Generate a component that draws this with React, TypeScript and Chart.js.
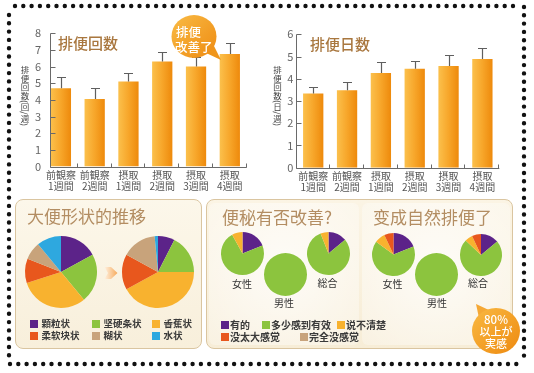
import React, { useEffect, useRef } from "react";
import { Chart, registerables } from "chart.js";
Chart.register(...registerables);

const FONT = "'Noto Sans CJK JP', 'Noto Sans CJK SC', sans-serif";

// ---------- data ----------
const barCategories = [
  ["前観察", "1週間"],
  ["前観察", "2週間"],
  ["摂取", "1週間"],
  ["摂取", "2週間"],
  ["摂取", "3週間"],
  ["摂取", "4週間"],
];
const frequencyValues = [4.7, 4.05, 5.1, 6.3, 6.0, 6.75];
const frequencyErrors = [0.7, 0.65, 0.5, 0.6, 0.6, 0.65];
const frequencyTicks = [0, 1, 2, 3, 4, 5, 6, 7, 8];

const daysValues = [3.34, 3.48, 4.26, 4.45, 4.57, 4.89];
const daysErrors = [0.27, 0.36, 0.49, 0.36, 0.48, 0.51];
const daysTicks = [0, 1, 2, 3, 4, 5, 6];

const shapeLabels = ["顆粒状", "坚硬条状", "香蕉状", "柔软块状", "糊状", "水状"];
const shapeColors = ["#5c2389", "#8cc43e", "#f8b22f", "#e8571d", "#c8a37b", "#2ea8df"];
const shapeBefore = [17, 22, 31, 11, 8, 11];
const shapeAfter = [7.5, 17.5, 42, 16, 15.5, 1.5];

const feelLabels = ["有的", "多少感到有效", "说不清楚", "没太大感觉", "完全没感觉"];
const feelColors = ["#5c2389", "#8cc43e", "#f8b22f", "#e8571d", "#c8a37b"];
const groupLabels = ["女性", "男性", "総合"];
const constipationFemale = [19, 73, 8, 0, 0];
const constipationMale = [0, 100, 0, 0, 0];
const constipationTotal = [14, 80, 6, 0, 0];
const naturalFemale = [19, 66, 8, 7, 0];
const naturalMale = [0, 100, 0, 0, 0];
const naturalTotal = [14, 73, 6, 7, 0];

// ---------- helpers ----------
function barGradient(c: any) {
  const chart = c.chart;
  const xs = chart.scales && chart.scales.x;
  if (!chart.chartArea || !xs || c.dataIndex == null) return "#f5a623";
  const x = xs.getPixelForValue(c.dataIndex);
  const g = chart.ctx.createLinearGradient(x - 10, 0, x + 10, 0);
  g.addColorStop(0, "#fbc04c");
  g.addColorStop(0.5, "#f7a62a");
  g.addColorStop(1, "#ee8a0c");
  return g;
}

function errorBars(errors: number[]) {
  return {
    id: "errorBars",
    afterDatasetsDraw(chart: any) {
      const { ctx } = chart;
      const meta = chart.getDatasetMeta(0);
      const ys = chart.scales.y;
      const vals = chart.data.datasets[0].data as number[];
      ctx.save();
      ctx.strokeStyle = "#5f5f5f";
      ctx.lineWidth = 1.2;
      ctx.beginPath();
      meta.data.forEach((bar: any, i: number) => {
        const x = Math.round(bar.x) + 0.5;
        const yTop = Math.round(ys.getPixelForValue(vals[i] + errors[i])) + 0.5;
        ctx.moveTo(x, bar.y);
        ctx.lineTo(x, yTop);
        ctx.moveTo(x - 4.5, yTop);
        ctx.lineTo(x + 4.5, yTop);
      });
      ctx.stroke();
      ctx.restore();
    },
  };
}

function axesLines(axisX: number) {
  return {
    id: "axesLines",
    afterDraw(chart: any) {
      const { ctx, chartArea, scales } = chart;
      const ys = scales.y;
      const xs = scales.x;
      const bottom = Math.round(ys.getPixelForValue(ys.min)) + 0.5;
      const top = Math.round(ys.getPixelForValue(ys.max)) + 0.5;
      const x0 = Math.round(axisX) + 0.5;
      ctx.save();
      ctx.strokeStyle = "#6a6a6a";
      ctx.lineWidth = 1;
      ctx.beginPath();
      ctx.moveTo(x0, top);
      ctx.lineTo(x0, bottom);
      ctx.lineTo(chartArea.right, bottom);
      ys.ticks.forEach((t: any) => {
        const y = Math.round(ys.getPixelForValue(t.value)) + 0.5;
        ctx.moveTo(x0, y);
        ctx.lineTo(x0 + 5, y);
      });
      const n = xs.ticks.length;
      const w = (chartArea.right - chartArea.left) / n;
      for (let i = 1; i <= n; i++) {
        const x = Math.round(chartArea.left + i * w) - 0.5;
        ctx.moveTo(x, bottom);
        ctx.lineTo(x, bottom - 4);
      }
      ctx.stroke();
      ctx.restore();
    },
  };
}

function makeBar(canvas: HTMLCanvasElement, values: number[], errors: number[], ticks: number[], lay: any) {
  return new Chart(canvas, {
    type: "bar",
    data: {
      labels: barCategories,
      datasets: [
        {
          data: values,
          backgroundColor: (c: any) => barGradient(c),
          borderWidth: 0,
          barPercentage: 0.6,
          categoryPercentage: 1,
        },
      ],
    },
    options: {
      animation: false,
      responsive: false,
      maintainAspectRatio: false,
      events: [],
      layout: { padding: { left: 0, right: lay.padRight, top: lay.padTop, bottom: 0 } },
      plugins: { legend: { display: false }, tooltip: { enabled: false } },
      scales: {
        x: {
          grid: { display: false, drawTicks: false, tickLength: 0 },
          border: { display: false },
          ticks: {
            color: "#555",
            font: { family: FONT, size: 10, lineHeight: 1.1 },
            padding: 3,
            maxRotation: 0,
            minRotation: 0,
            autoSkip: false,
          },
          afterFit: (s: any) => {
            s.height = lay.xHeight;
          },
        },
        y: {
          min: ticks[0],
          max: ticks[ticks.length - 1],
          grid: { display: false, drawTicks: false, tickLength: 0 },
          border: { display: false },
          ticks: { stepSize: 1, color: "#666", font: { family: FONT, size: 11 }, padding: 3 },
          afterFit: (s: any) => {
            s.width = lay.yWidth;
          },
        },
      },
    } as any,
    plugins: [errorBars(errors), axesLines(lay.axisX)],
  });
}

function makePie(canvas: HTMLCanvasElement, labels: string[], data: number[], colors: string[]) {
  return new Chart(canvas, {
    type: "pie",
    data: { labels, datasets: [{ data, backgroundColor: colors, borderWidth: 0 }] },
    options: {
      animation: false,
      responsive: false,
      maintainAspectRatio: false,
      events: [],
      layout: { padding: 1 },
      plugins: { legend: { display: false }, tooltip: { enabled: false } },
    } as any,
  });
}

function T(props: { x: number; y: number; s: number; c?: string; w?: number; align?: string; children: any }) {
  const { x, y, s, c = "#333", w = 400, align = "left", children } = props;
  const style: any = {
    position: "absolute",
    top: y - s * 0.7,
    height: s * 1.4,
    lineHeight: `${s * 1.4}px`,
    fontSize: s,
    color: c,
    fontWeight: w,
    whiteSpace: "nowrap",
    fontFamily: FONT,
  };
  if (align === "center") {
    style.left = x - 100;
    style.width = 200;
    style.textAlign = "center";
  } else {
    style.left = x;
  }
  return <div style={style}>{children}</div>;
}

const pieSpecs = [
  { labels: shapeLabels, data: shapeBefore, colors: shapeColors, cx: 61, cy: 272, r: 36 },
  { labels: shapeLabels, data: shapeAfter, colors: shapeColors, cx: 158, cy: 272, r: 36 },
  { labels: feelLabels, data: constipationFemale, colors: feelColors, cx: 242, cy: 253.5, r: 21.3 },
  { labels: feelLabels, data: constipationMale, colors: feelColors, cx: 285, cy: 274, r: 21.7 },
  { labels: feelLabels, data: constipationTotal, colors: feelColors, cx: 328, cy: 253.5, r: 21.3 },
  { labels: feelLabels, data: naturalFemale, colors: feelColors, cx: 393.3, cy: 254.5, r: 21.3 },
  { labels: feelLabels, data: naturalMale, colors: feelColors, cx: 436.7, cy: 274, r: 21.7 },
  { labels: feelLabels, data: naturalTotal, colors: feelColors, cx: 481, cy: 254.5, r: 21.1 },
];

export default function App() {
  const freqRef = useRef<HTMLCanvasElement>(null);
  const daysRef = useRef<HTMLCanvasElement>(null);
  const pieRefs = useRef<(HTMLCanvasElement | null)[]>([]);

  useEffect(() => {
    document.body.style.margin = "0";
    const charts: Chart[] = [];
    if (freqRef.current)
      charts.push(
        makeBar(freqRef.current, frequencyValues, frequencyErrors, frequencyTicks, {
          axisX: 50,
          padRight: 267 - 246.7,
          padTop: 33.3,
          yWidth: 44,
          xHeight: 195 - 166.5,
        })
      );
    if (daysRef.current)
      charts.push(
        makeBar(daysRef.current, daysValues, daysErrors, daysTicks, {
          axisX: 29.3,
          padRight: 267 - 232.3,
          padTop: 34.3,
          yWidth: 29.3,
          xHeight: 195 - 167.7,
        })
      );
    pieSpecs.forEach((p, i) => {
      const cv = pieRefs.current[i];
      if (cv) charts.push(makePie(cv, p.labels, p.data, p.colors));
    });
    return () => charts.forEach((c) => c.destroy());
  }, []);

  const leftLegendCols = [30, 92, 152];
  const leftLegendRows = [324, 336];
  const rightLegendPos = [
    [221, 325],
    [262, 325],
    [337, 325],
    [221, 336.5],
    [300, 336.5],
  ];

  const dot = { stroke: "#111", strokeWidth: 4.4, strokeLinecap: "round" as const, strokeDasharray: "0 8.3" };

  return (
    <div
      style={{
        position: "absolute",
        left: 0,
        top: 0,
        width: 534,
        height: 373,
        background: "#fff",
        overflow: "hidden",
        fontFamily: FONT,
      }}
    >
      {/* dotted frame */}
      <svg width={534} height={373} style={{ position: "absolute", left: 0, top: 0 }}>
        <line x1={15} y1={6} x2={520} y2={6} {...dot} />
        <line x1={524} y1={7} x2={524} y2={363} {...dot} />
        <line x1={10} y1={364} x2={520} y2={364} {...dot} />
        <line x1={9} y1={15} x2={9} y2={360} {...dot} />
      </svg>

      {/* bar charts */}
      <canvas ref={freqRef} width={267} height={195} style={{ position: "absolute", left: 0, top: 0, width: 267, height: 195 }} />
      <canvas ref={daysRef} width={267} height={195} style={{ position: "absolute", left: 267, top: 0, width: 267, height: 195 }} />

      <T x={58} y={42.5} s={15} c="#a9773f" w={500}>排便回数</T>
      <T x={310} y={43} s={15} c="#a9773f" w={500}>排便日数</T>

      <div style={{ position: "absolute", left: 20, top: 66, width: 10, height: 70, writingMode: "vertical-rl", fontSize: 8.5, lineHeight: "10px", color: "#444", fontFamily: FONT, whiteSpace: "nowrap" }}>
        排便回数(回/週)
      </div>
      <div style={{ position: "absolute", left: 272.5, top: 66, width: 10, height: 70, writingMode: "vertical-rl", fontSize: 8.5, lineHeight: "10px", color: "#444", fontFamily: FONT, whiteSpace: "nowrap" }}>
        排便回数(日/週)
      </div>

      {/* callout bubble */}
      <svg width={534} height={373} style={{ position: "absolute", left: 0, top: 0 }}>
        <defs>
          <linearGradient id="og1" x1="0" y1="0" x2="1" y2="1">
            <stop offset="0" stopColor="#f9bb45" />
            <stop offset="1" stopColor="#ee8b12" />
          </linearGradient>
          <linearGradient id="ar" x1="0" y1="0" x2="1" y2="0">
            <stop offset="0" stopColor="#fff1e0" />
            <stop offset="1" stopColor="#f6aa5c" />
          </linearGradient>
        </defs>
        <path d="M 204 52 L 221 60 L 213 44 Z" fill="#f0951a" />
        <ellipse cx={194} cy={36.5} rx={22.5} ry={21.5} fill="url(#og1)" />
      </svg>
      <T x={176} y={31.5} s={12.5} c="#fff" w={500}>排便</T>
      <T x={175} y={46.5} s={12.5} c="#fff" w={500}>改善了</T>

      {/* bottom boxes */}
      <div
        style={{
          position: "absolute",
          left: 15,
          top: 199,
          width: 187,
          height: 150,
          boxSizing: "border-box",
          border: "1px solid #dac5a0",
          borderRadius: 8,
          background: "linear-gradient(180deg,#fcf7ea 0%,#f8efdb 100%)",
        }}
      />
      <div
        style={{
          position: "absolute",
          left: 206,
          top: 199,
          width: 307,
          height: 150,
          boxSizing: "border-box",
          border: "1px solid #dac5a0",
          borderRadius: 8,
          background: "linear-gradient(180deg,#fbf4e4 0%,#f7edd7 100%)",
        }}
      />
      <div style={{ position: "absolute", left: 209, top: 203, width: 150, height: 142, borderRadius: 6, background: "radial-gradient(ellipse at 50% 45%, rgba(255,255,255,0.75), rgba(255,255,255,0.25))" }} />
      <div style={{ position: "absolute", left: 362, top: 203, width: 148, height: 142, borderRadius: 6, background: "radial-gradient(ellipse at 50% 45%, rgba(255,255,255,0.75), rgba(255,255,255,0.25))" }} />

      <T x={27} y={216} s={17} c="#b38d62">大便形状的推移</T>
      <T x={222} y={216.5} s={17} c="#b38d62">便秘有否改善?</T>
      <T x={373} y={216.5} s={17} c="#b38d62">变成自然排便了</T>

      <svg width={534} height={373} style={{ position: "absolute", left: 0, top: 0 }}>
        <polygon points="104.5,267 111,267 117.5,273 111,279 104.5,279 108,273" fill="url(#ar)" />
      </svg>

      {pieSpecs.map((p, i) => {
        const S = Math.round(2 * p.r) + 2;
        return (
          <canvas
            key={i}
            ref={(el) => {
              pieRefs.current[i] = el;
            }}
            width={S}
            height={S}
            style={{ position: "absolute", left: Math.round(p.cx - S / 2), top: Math.round(p.cy - S / 2), width: S, height: S }}
          />
        );
      })}

      <T x={242} y={284} s={10} align="center">{groupLabels[0]}</T>
      <T x={284} y={303} s={10} align="center">{groupLabels[1]}</T>
      <T x={327.5} y={282.5} s={10} align="center">{groupLabels[2]}</T>
      <T x={392.5} y={284} s={10} align="center">{groupLabels[0]}</T>
      <T x={437} y={303} s={10} align="center">{groupLabels[1]}</T>
      <T x={478} y={282.5} s={10} align="center">{groupLabels[2]}</T>

      {/* left legend */}
      {shapeLabels.map((lab, i) => {
        const x = leftLegendCols[i % 3];
        const y = leftLegendRows[Math.floor(i / 3)];
        return (
          <React.Fragment key={lab}>
            <div style={{ position: "absolute", left: x, top: y - 4, width: 8, height: 8, background: shapeColors[i] }} />
            <T x={x + 11.5} y={y} s={9.5} c="#3a3a3a" w={700}>{lab}</T>
          </React.Fragment>
        );
      })}

      {/* right legend */}
      {feelLabels.map((lab, i) => {
        const [x, y] = rightLegendPos[i];
        return (
          <React.Fragment key={lab}>
            <div style={{ position: "absolute", left: x, top: y - 4, width: 8, height: 8, background: feelColors[i] }} />
            <T x={x + 9} y={y} s={10} c="#3a3a3a" w={700}>{lab}</T>
          </React.Fragment>
        );
      })}

      {/* badge */}
      <svg width={534} height={373} style={{ position: "absolute", left: 0, top: 0 }}>
        <defs>
          <linearGradient id="og2" x1="0" y1="0" x2="1" y2="1">
            <stop offset="0" stopColor="#f9b942" />
            <stop offset="1" stopColor="#ee8a10" />
          </linearGradient>
        </defs>
        <path d="M 479 318 L 476 304 L 491 311 Z" fill="#f5a835" />
        <ellipse cx={496} cy={331} rx={24} ry={23} fill="url(#og2)" />
      </svg>
      <T x={496} y={319} s={11.5} c="#fff" w={500} align="center">80%</T>
      <T x={496} y={331.5} s={11} c="#fff" w={500} align="center">以上が</T>
      <T x={496} y={343.5} s={11} c="#fff" w={500} align="center">実感</T>
    </div>
  );
}
